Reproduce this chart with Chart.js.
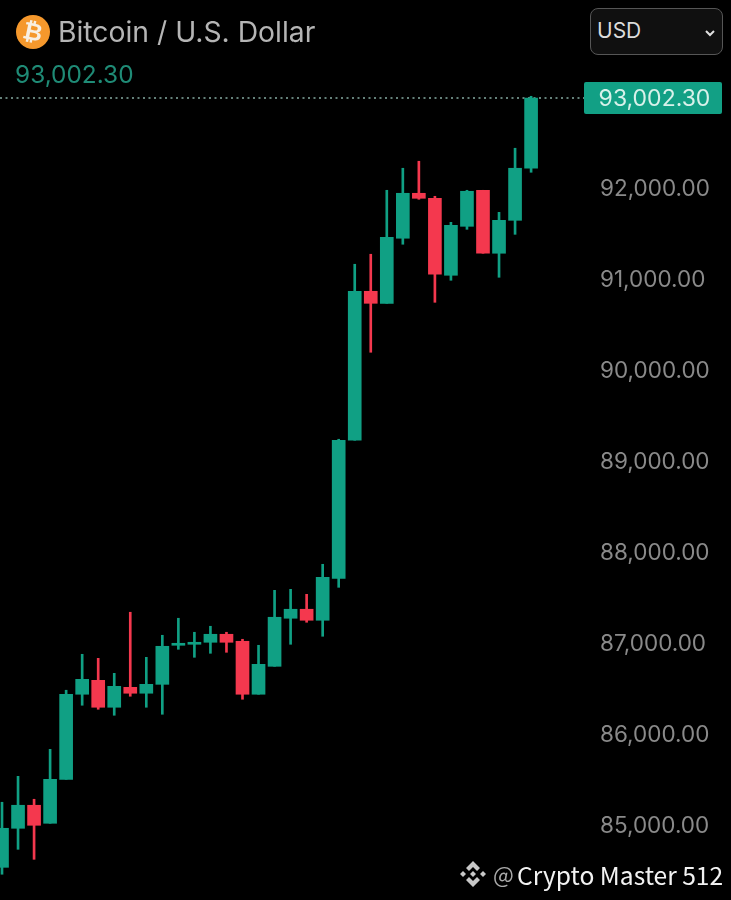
<!DOCTYPE html>
<html>
<head>
<meta charset="utf-8">
<title>Bitcoin / U.S. Dollar</title>
<script src="https://cdn.jsdelivr.net/npm/chart.js@4/dist/chart.umd.min.js"></script>
<style>
html, body { margin: 0; padding: 0; background: #000; }
#wrap { position: relative; width: 731px; height: 900px; overflow: hidden; font-family: Inter, Roboto, sans-serif; }
canvas { position: absolute; left: 0; top: 0; }
.abs { position: absolute; white-space: nowrap; }
#icon { left: 16px; top: 15px; width: 34px; height: 34px; border-radius: 50%; background: #f5982c; color: #f8efe2; font: bold 24px/34px "DejaVu Sans", sans-serif; text-align: center; }
#icon span { display: inline-block; transform: rotate(12deg); }
#title { left: 58px; top: 14px; font-size: 28.3px; line-height: 36px; color: #b5b5b5; }
#price { left: 15px; top: 59px; font-size: 24.4px; line-height: 30px; color: #1f8b76; }
#unit { left: 590px; top: 8px; width: 133px; height: 47px; box-sizing: border-box; border: 1.5px solid #565656; border-radius: 8px; background: #101010; color: #dcdcdc; font-size: 21px; line-height: 44px; padding-left: 6px; }
#chev { left: 704px; top: 29px; }
#mark { left: 459px; top: 860px; width: 28px; height: 28px; }
#at { left: 493px; top: 857px; font: 22px/32px "Noto Sans CJK SC", sans-serif; color: #aaa; }
#who { left: 517px; top: 858px; font: 24.6px/32px "Noto Sans CJK SC", sans-serif; color: #f2f2f2; }
</style>
</head>
<body>
<div id="wrap">
  <canvas id="chart" width="731" height="900"></canvas>
  <div class="abs" id="icon"><span>₿</span></div>
  <div class="abs" id="title">Bitcoin / U.S. Dollar</div>
  <div class="abs" id="price">93,002.30</div>
  <div class="abs" id="unit">USD</div>
  <svg class="abs" id="chev" width="12" height="8" viewBox="0 0 12 8"><path d="M2 2 L6 6 L10 2" fill="none" stroke="#e0e0e0" stroke-width="2"/></svg>
  <svg class="abs" id="mark" viewBox="0 0 28 28" fill="#c8c8c8">
    <path d="M14 1 L21 8 L18 11 L14 7 L10 11 L7 8 Z"/>
    <path d="M14 27 L21 20 L18 17 L14 21 L10 17 L7 20 Z"/>
    <path d="M14 11 L17 14 L14 17 L11 14 Z"/>
    <path d="M4 11 L7 14 L4 17 L1 14 Z"/>
    <path d="M24 11 L27 14 L24 17 L21 14 Z"/>
  </svg>
  <div class="abs" id="at">@</div>
  <div class="abs" id="who">Crypto Master 512</div>
</div>
<script>
// candle values
const opens  = [84549, 84978, 85231, 85033, 85516, 86451, 86604, 86308, 86527, 86462, 86560, 86989, 87000, 87022, 87110, 87033, 86451, 86758, 87286, 87385, 87264, 87725, 89242, 90879, 90747, 91462, 91956, 91901, 91055, 91593, 91989, 91297, 91659, 92231];
const highs  = [85264, 85549, 85297, 85846, 86495, 86890, 86846, 86681, 87352, 86857, 87099, 87286, 87132, 87198, 87132, 87055, 86989, 87593, 87604, 87549, 87879, 89253, 91176, 91286, 91989, 92231, 92308, 91923, 91637, 91989, 91989, 91747, 92451, 93022];
const lows   = [84473, 84747, 84637, 85033, 85516, 86330, 86286, 86220, 86429, 86308, 86231, 86945, 86857, 86901, 86912, 86396, 86451, 86758, 87000, 87242, 87088, 87626, 89242, 90209, 90747, 91396, 91890, 90758, 91000, 91560, 91297, 91033, 91505, 92187];
const closes = [84978, 85231, 85011, 85516, 86451, 86615, 86308, 86538, 86462, 86560, 86978, 87011, 87022, 87110, 87022, 86451, 86780, 87297, 87385, 87264, 87736, 89242, 90879, 90747, 91473, 91956, 91901, 91066, 91604, 91978, 91297, 91659, 92231, 93002.30];
const tickValues = [85000, 86000, 87000, 88000, 89000, 90000, 91000, 92000];
const lastPrice = 93002.30;

const GREEN = "#10a084";
const RED = "#f4384e";

function money(v) {
    return v.toLocaleString("en-US", { minimumFractionDigits: 2, maximumFractionDigits: 2 });
}

const candleColors = opens.map((o, i) => closes[i] >= o ? GREEN : RED);
const bodies = opens.map((o, i) => ({ x: i, y: [o, closes[i]] }));
const wicks = lows.map((l, i) => ({ x: i, y: [l, highs[i]] }));

const xMin = -0.125;
const xMax = 36.3;

// green price tag on the axis
const priceTag = {
    id: "priceTag",
    afterDraw(chart) {
        const ctx = chart.ctx;
        const y = chart.scales.y.getPixelForValue(lastPrice);
        ctx.save();
        ctx.fillStyle = "#12a085";
        ctx.beginPath();
        ctx.roundRect(584, y - 16, 138, 32, 2);
        ctx.fill();
        ctx.fillStyle = "#d8f1ea";
        ctx.font = "23px Inter, Roboto, sans-serif";
        ctx.textAlign = "center";
        ctx.textBaseline = "middle";
        ctx.fillText(money(lastPrice), 654.5, y + 1);
        ctx.restore();
    }
};

new Chart(document.getElementById("chart").getContext("2d"), {
    data: {
        datasets: [
            {
                type: "line",
                data: [{ x: xMin, y: lastPrice }, { x: xMax, y: lastPrice }],
                borderColor: "#86aca3",
                borderWidth: 1.5,
                borderDash: [2, 3.5],
                pointRadius: 0,
                order: 3
            },
            {
                type: "bar",
                data: bodies,
                backgroundColor: candleColors,
                barThickness: 13,
                grouped: false,
                borderSkipped: false,
                order: 1
            },
            {
                type: "bar",
                data: wicks,
                backgroundColor: candleColors,
                barThickness: 2,
                grouped: false,
                borderSkipped: false,
                order: 2
            }
        ]
    },
    options: {
        responsive: false,
        animation: false,
        layout: { padding: 0 },
        plugins: { legend: { display: false }, tooltip: { enabled: false } },
        scales: {
            x: {
                type: "linear",
                offset: false,
                min: xMin,
                max: xMax,
                display: false
            },
            y: {
                position: "right",
                offset: false,
                min: 84190,
                max: 94080,
                grid: { display: false, drawTicks: false },
                border: { display: false },
                afterFit(scale) {
                    scale.width = 147;
                    scale.paddingTop = 0;
                    scale.paddingBottom = 0;
                },
                afterBuildTicks(scale) { scale.ticks = tickValues.map(v => ({ value: v })); },
                ticks: {
                    color: "#8a8a8a",
                    padding: 16,
                    autoSkip: false,
                    font: { family: "Inter, Roboto, sans-serif", size: 22.5 },
                    callback: v => money(v)
                }
            }
        }
    },
    plugins: [priceTag]
});
</script>
</body>
</html>
